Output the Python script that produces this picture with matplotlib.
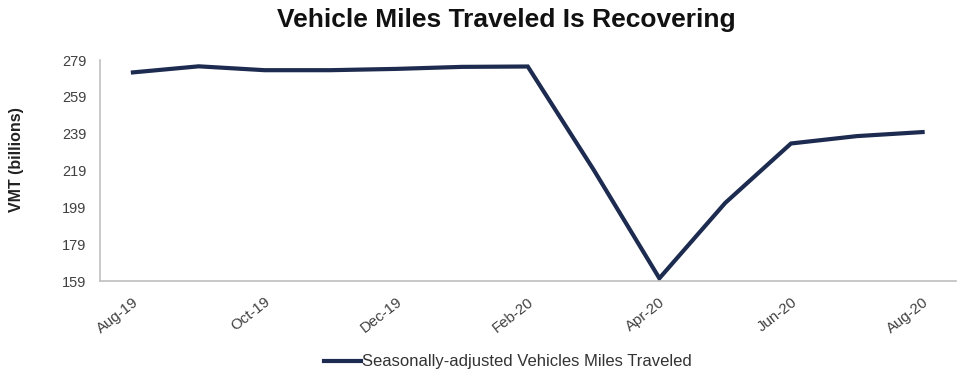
import matplotlib
matplotlib.use("Agg")
import matplotlib.pyplot as plt

months = ["Aug-19", "Sep-19", "Oct-19", "Nov-19", "Dec-19", "Jan-20", "Feb-20",
          "Mar-20", "Apr-20", "May-20", "Jun-20", "Jul-20", "Aug-20"]
vmt = [272.3, 275.6, 273.5, 273.5, 274.2, 275.3, 275.5,
       219.5, 160.5, 201.4, 233.7, 237.7, 239.9]
yticks = [159, 179, 199, 219, 239, 259, 279]
series_name = "Seasonally-adjusted Vehicles Miles Traveled"

plt.rcParams['font.family'] = ['Liberation Sans', 'DejaVu Sans']

fig = plt.figure(figsize=(9.58, 3.85), dpi=100)
ax = fig.add_axes([0.1044, 0.270, 0.893, 0.574])
x = list(range(len(months)))
ax.plot(x, vmt, color="#1c2b4f", linewidth=3.0, solid_joinstyle='miter',
        label=series_name)
ax.set_xlim(-0.5, len(months) - 0.5)
ax.set_ylim(159, 279)
ax.set_yticks(yticks)
ax.set_yticklabels([str(v) for v in yticks], fontsize=10.5, color="#404040")
ax.set_xticks(x[::2])
ax.set_xticklabels(months[::2], rotation=38, ha='right', rotation_mode='anchor',
                   fontsize=10.8, color="#404040")
ax.tick_params(axis='y', length=0, pad=10)
ax.tick_params(axis='x', length=0, pad=10)
for s in ['top', 'right']:
    ax.spines[s].set_visible(False)
for s in ['left', 'bottom']:
    ax.spines[s].set_color("#bfbfbf")
    ax.spines[s].set_linewidth(1.2)
ax.set_ylabel("VMT (billions)", fontsize=11.5, fontweight='bold', color="#222222")
ax.yaxis.set_label_coords(-0.089, 0.55)
fig.suptitle("Vehicle Miles Traveled Is Recovering", fontsize=19, fontweight='bold',
             x=0.528, y=0.978, color="#111111")
fig.legend(loc='center', bbox_to_anchor=(0.53, 0.06), frameon=False, fontsize=12,
           handlelength=2.2, handletextpad=0.05, labelcolor="#333333")
fig.savefig("out.png", dpi=100)
